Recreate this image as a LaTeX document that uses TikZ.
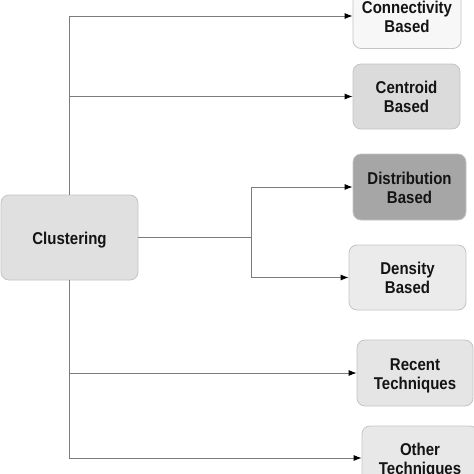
\documentclass[tikz,border=0pt]{standalone}
\usepackage{fontspec}
\setmainfont{Liberation Sans}
\usetikzlibrary{arrows.meta}
\definecolor{edgegray}{HTML}{7C7C7C}
\definecolor{boxline}{HTML}{C4C4C4}
\newcommand{\lbl}[1]{\scalebox{1}[1.14]{\begin{tabular}{@{}c@{}}\rule{0pt}{16.6pt}#1\end{tabular}}}
\begin{document}
\begin{tikzpicture}[x=1pt,y=-1pt,
  catbox/.style={draw=boxline,line width=0.8pt,rounded corners=8pt,align=center,
    font=\fontsize{15}{16.7}\selectfont\bfseries,inner sep=0pt,text=black!92},
  conn/.style={draw=edgegray,line width=0.8pt},
  arr/.style={conn,-{Latex[length=8pt,width=6pt,color=black]}}]
\useasboundingbox (0,0) rectangle (474,474);
\clip (0,0) rectangle (474,474);
\node[catbox,fill=black!12,minimum width=137pt,minimum height=85pt] (clus) at (69.5,237.5) {\lbl{Clustering}};
\node[catbox,fill=black!3,minimum width=108pt,minimum height=65pt] (cnn) at (407,16) {\lbl{Connectivity\\Based}};
\node[catbox,fill=black!14,minimum width=107pt,minimum height=65pt] (cen) at (406.5,96.5) {\lbl{Centroid\\Based}};
\node[catbox,fill=black!35,minimum width=113pt,minimum height=66pt] (dis) at (409.5,187) {\lbl{Distribution\\Based}};
\node[catbox,fill=black!8,minimum width=117pt,minimum height=65pt] (den) at (407.5,277.5) {\lbl{Density\\Based}};
\node[catbox,fill=black!10,minimum width=116pt,minimum height=66pt] (rec) at (415,373) {\lbl{Recent\\Techniques}};
\node[catbox,fill=black!9,minimum width=116pt,minimum height=64pt] (oth) at (420,458) {\lbl{Other\\Techniques}};
% upper trunk
\draw[arr] (clus.north) -- (clus.north |- cnn.west) -- (cnn.west);
\draw[arr] (clus.north |- cen.west) -- (cen.west);
% lower trunk
\draw[arr] (clus.south) -- (clus.south |- oth.west) -- (oth.west);
\draw[arr] (clus.south |- rec.west) -- (rec.west);
% middle branch
\draw[conn] (clus.east) -- ++(113,0) coordinate (j);
\draw[arr] (j) -- (j |- dis.west) -- (dis.west);
\draw[arr] (j) -- (j |- den.west) -- (den.west);
\end{tikzpicture}
\end{document}
